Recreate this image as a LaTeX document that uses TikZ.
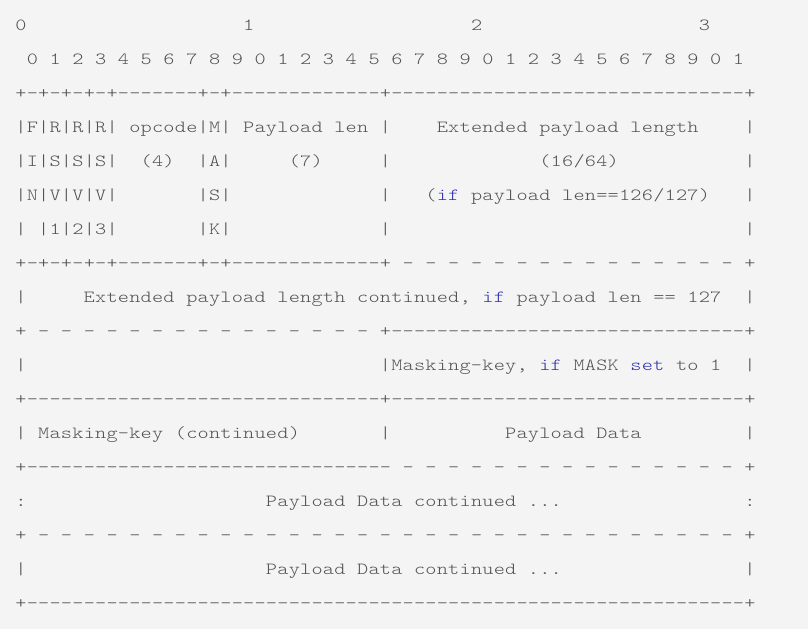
\documentclass[tikz,border=0pt]{standalone}
\usepackage{fontspec}
\setmonofont{lmmonolt10-regular}[Extension=.otf,FakeStretch=1.25]
\usepackage{xcolor}
\definecolor{bg}{HTML}{F4F4F4}
\definecolor{txt}{HTML}{505050}
\definecolor{kw}{HTML}{2B2BAB}
\ExplSyntaxOn
\dim_new:N \l_cellw_dim
\dim_set:Nn \l_cellw_dim {11.39pt}
\tl_new:N \l_rowtext_tl
\NewExpandableDocumentCommand \rep { m m } { \prg_replicate:nn {#1} {#2} }
\NewDocumentCommand \cells { m }
  {
    \tl_set:Nx \l_rowtext_tl {#1}
    \tl_map_inline:Nn \l_rowtext_tl
      {
        \str_if_eq:nnTF {##1} {*}
          { \hbox_to_wd:nn { \l_cellw_dim } { \hfil } }
          { \hbox_to_wd:nn { \l_cellw_dim } { \hfil ##1 \hfil } }
      }
  }
\ExplSyntaxOff
\newcommand\kwc[1]{\textcolor{kw}{\cells{#1}}}
\tikzset{row/.style={anchor=base west, inner sep=0pt, outer sep=0pt, text=txt,
  font=\ttfamily\fontsize{17}{17}\selectfont}}
\begin{document}
\begin{tikzpicture}[x=1pt,y=-1pt]
\fill[bg] (0,0) rectangle (808,629);
\useasboundingbox (0,0) rectangle (808,629);
\node[row] (r1) at (15.3,30) {\cells{0\rep{19}{*}1\rep{19}{*}2\rep{19}{*}3}};
\node[row] (r2) at (15.3,64) {\cells{*0*1*2*3*4*5*6*7*8*9*0*1*2*3*4*5*6*7*8*9*0*1*2*3*4*5*6*7*8*9*0*1}};
\node[row] (r3) at (15.3,98) {\cells{+-+-+-+-+\rep{7}{-}+-+\rep{13}{-}+\rep{31}{-}+}};
\node[row] (r4) at (15.3,132) {\cells{|F|R|R|R|*opcode|M|*Payload*len*|****Extended*payload*length****|}};
\node[row] (r5) at (15.3,166) {\cells{|I|S|S|S|**(4)**|A|\rep{5}{*}(7)\rep{5}{*}|\rep{13}{*}(16/64)\rep{11}{*}|}};
\node[row] (r6) at (15.3,200) {\cells{|N|V|V|V|\rep{7}{*}|S|\rep{13}{*}|***(}\kwc{if}\cells{*payload*len==126/127)***|}};
\node[row] (r7) at (15.3,234) {\cells{|*|1|2|3|\rep{7}{*}|K|\rep{13}{*}|\rep{31}{*}|}};
\node[row] (r8) at (15.3,268) {\cells{+-+-+-+-+\rep{7}{-}+-+\rep{13}{-}+\rep{15}{*-}*+}};
\node[row] (r9) at (15.3,302) {\cells{|\rep{5}{*}Extended*payload*length*continued,*}\kwc{if}\cells{*payload*len*==*127**|}};
\node[row] (r10) at (15.3,336) {\cells{+\rep{15}{*-}*+\rep{31}{-}+}};
\node[row] (r11) at (15.3,370) {\cells{|\rep{31}{*}|Masking-key,*}\kwc{if}\cells{*MASK*}\kwc{set}\cells{*to*1**|}};
\node[row] (r12) at (15.3,404) {\cells{+\rep{31}{-}+\rep{31}{-}+}};
\node[row] (r13) at (15.3,438) {\cells{|*Masking-key*(continued)\rep{7}{*}|\rep{10}{*}Payload*Data\rep{9}{*}|}};
\node[row] (r14) at (15.3,472) {\cells{+\rep{32}{-}\rep{15}{*-}*+}};
\node[row] (r15) at (15.3,506) {\cells{:\rep{21}{*}Payload*Data*continued*...\rep{16}{*}:}};
\node[row] (r16) at (15.3,540) {\cells{+\rep{31}{*-}*+}};
\node[row] (r17) at (15.3,574) {\cells{|\rep{21}{*}Payload*Data*continued*...\rep{16}{*}|}};
\node[row] (r18) at (15.3,608) {\cells{+\rep{63}{-}+}};
\end{tikzpicture}
\end{document}
